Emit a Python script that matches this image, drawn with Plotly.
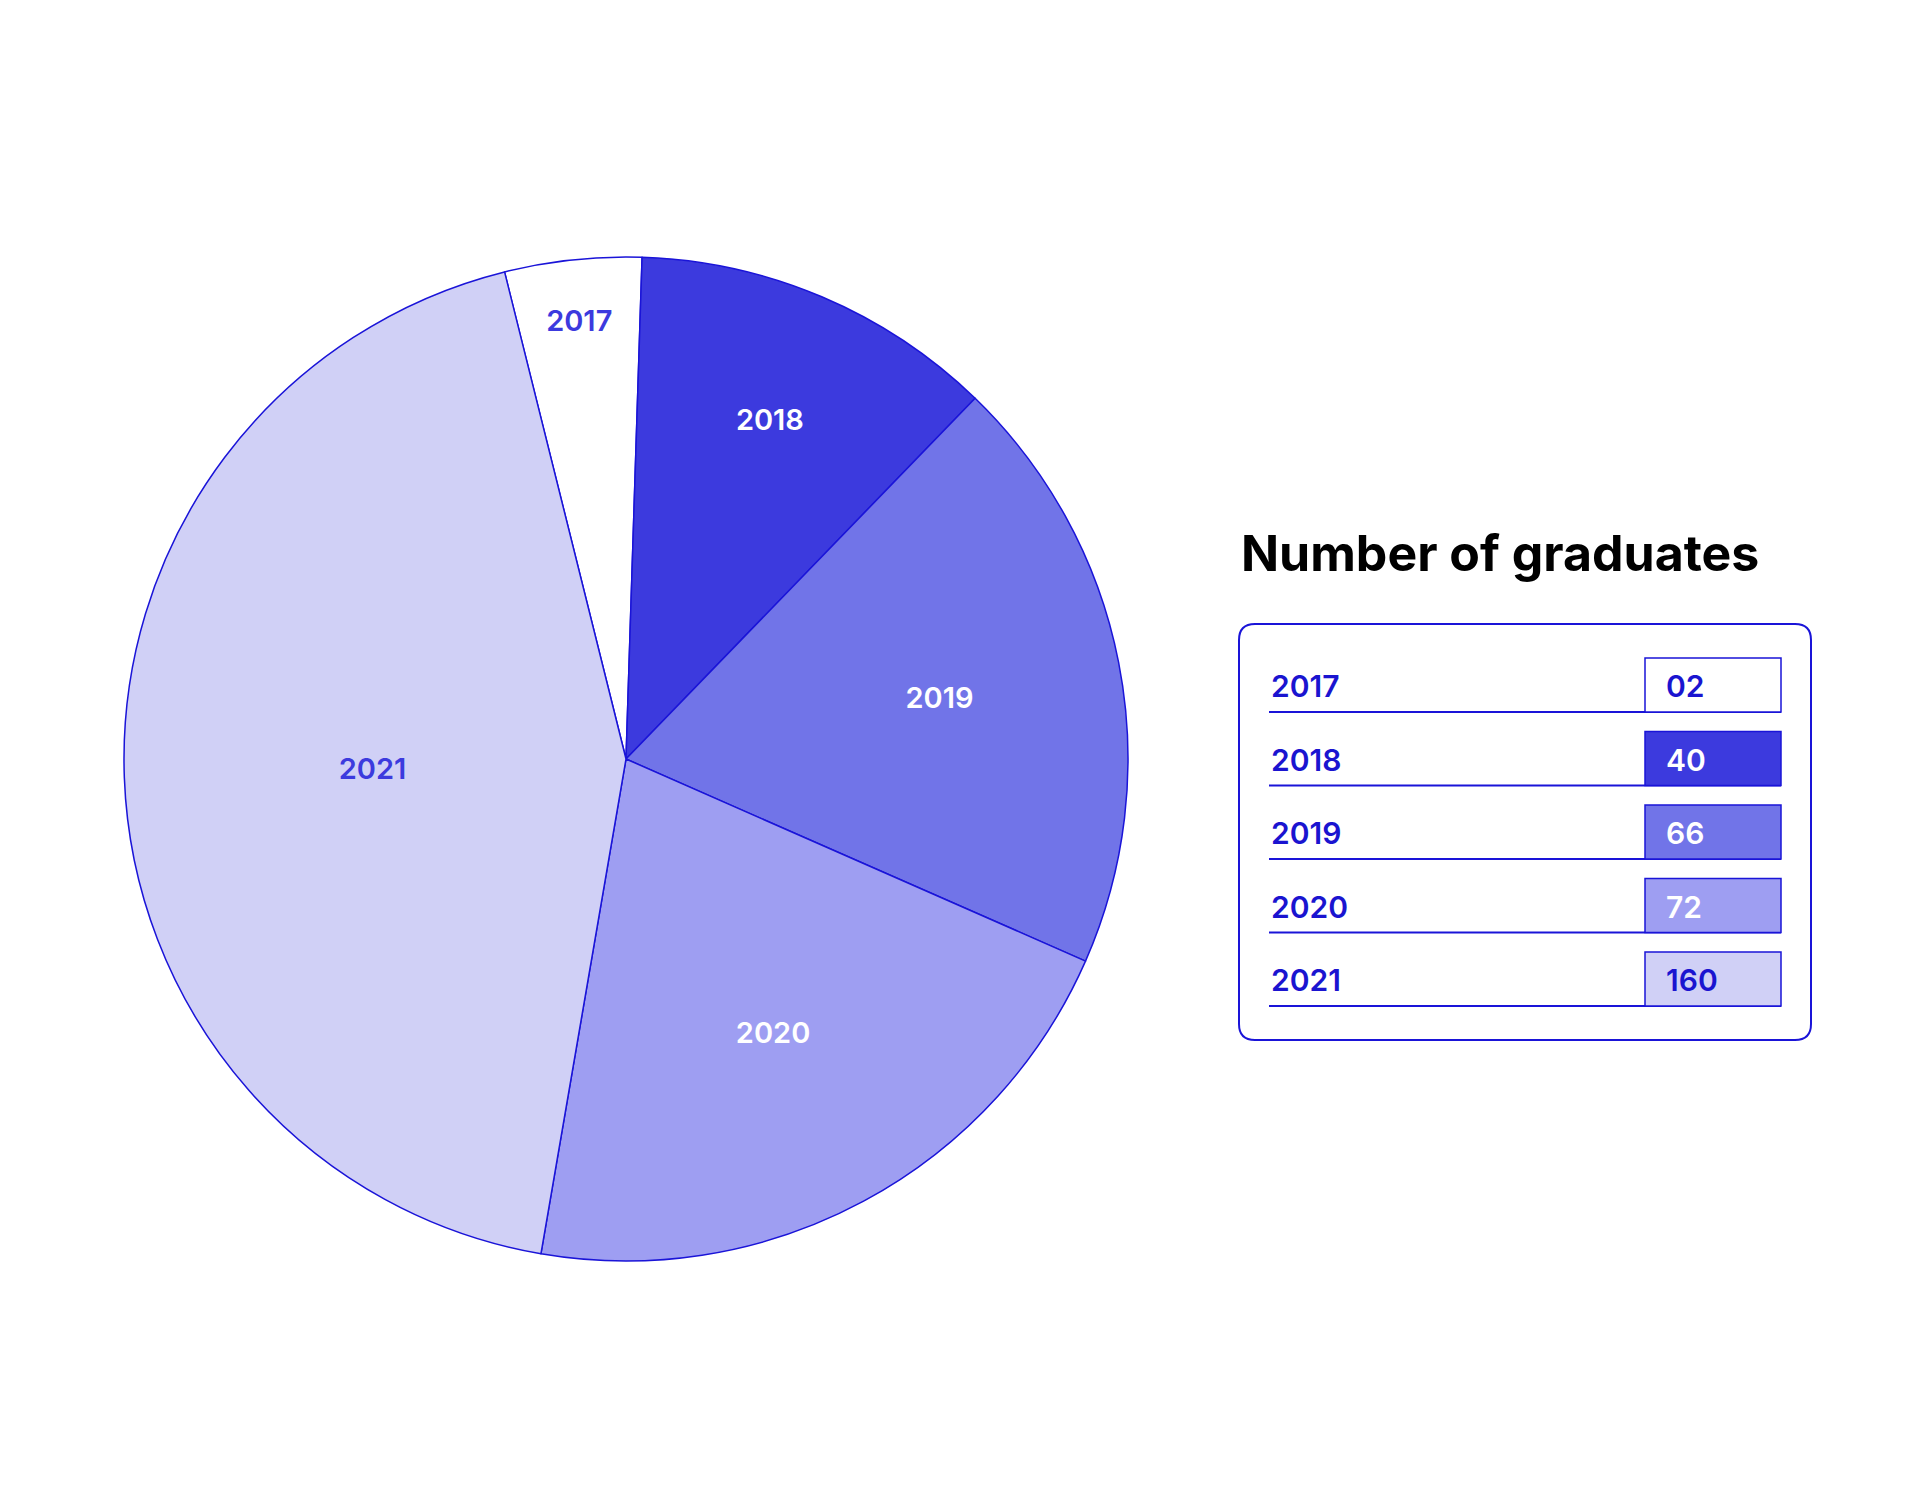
import plotly.graph_objects as go

W, H = 1920, 1502

years = ["2017", "2018", "2019", "2020", "2021"]
# slice sizes as drawn in the pie
pie_values = [15, 40, 66, 72, 148]
# numbers printed in the table
table_values = ["02", "40", "66", "72", "160"]

colors = ["#ffffff", "#3c3ade", "#7174e8", "#9e9ef2", "#d0d0f6"]
text_colors = ["#3c3ade", "#ffffff", "#ffffff", "#ffffff", "#3c3ade"]
val_text_colors = ["#1a14d0", "#ffffff", "#ffffff", "#ffffff", "#1a14d0"]
line_col = "#1a14d8"
FONT = "Inter"


def px(x):
    return x / W


def py(y):
    return 1 - y / H


fig = go.Figure()
fig.add_trace(go.Pie(
    labels=years, values=pie_values, sort=False, direction="clockwise",
    rotation=-14, textinfo="label", textposition="inside",
    insidetextorientation="horizontal",
    marker=dict(colors=colors, line=dict(color=line_col, width=1.5)),
    textfont=dict(family=FONT, size=29, color=text_colors, weight=600),
    domain=dict(x=[px(116), px(1120)], y=[py(1253), py(249)]),
    showlegend=False, hoverinfo="label+value",
))

shapes = []
annotations = []

# rounded outer box
x0, x1, y0, y1, r = 1231, 1803, 616, 1032, 16
path = (f"M {px(x0+r)},{py(y0)} L {px(x1-r)},{py(y0)} "
        f"Q {px(x1)},{py(y0)} {px(x1)},{py(y0+r)} L {px(x1)},{py(y1-r)} "
        f"Q {px(x1)},{py(y1)} {px(x1-r)},{py(y1)} L {px(x0+r)},{py(y1)} "
        f"Q {px(x0)},{py(y1)} {px(x0)},{py(y1-r)} L {px(x0)},{py(y0+r)} "
        f"Q {px(x0)},{py(y0)} {px(x0+r)},{py(y0)} Z")
shapes.append(dict(type="path", path=path, xref="paper", yref="paper",
                   line=dict(color=line_col, width=2)))

annotations.append(dict(text="<b>Number of graduates</b>", x=px(1231), y=py(545),
                        xref="paper", yref="paper", xanchor="left", yanchor="middle",
                        showarrow=False, font=dict(family=FONT, size=50, color="#000000")))

for i, (yr, v) in enumerate(zip(years, table_values)):
    base = 704 + i * 73.5
    shapes.append(dict(type="line", xref="paper", yref="paper",
                       x0=px(1261), x1=px(1773), y0=py(base), y1=py(base),
                       line=dict(color=line_col, width=2)))
    shapes.append(dict(type="rect", xref="paper", yref="paper",
                       x0=px(1637), x1=px(1773), y0=py(base), y1=py(base - 54),
                       fillcolor=colors[i], line=dict(color=line_col, width=1.5)))
    annotations.append(dict(text=yr, x=px(1261), y=py(base - 26), xref="paper", yref="paper",
                            xanchor="left", yanchor="middle", showarrow=False,
                            font=dict(family=FONT, size=30, color="#1a14d0", weight=600)))
    annotations.append(dict(text=v, x=px(1656), y=py(base - 26), xref="paper", yref="paper",
                            xanchor="left", yanchor="middle", showarrow=False,
                            font=dict(family=FONT, size=30, color=val_text_colors[i], weight=600)))

fig.update_layout(width=W, height=H, margin=dict(l=0, r=0, t=0, b=0),
                  paper_bgcolor="white", plot_bgcolor="white",
                  shapes=shapes, annotations=annotations)

fig.write_html("out.html")
